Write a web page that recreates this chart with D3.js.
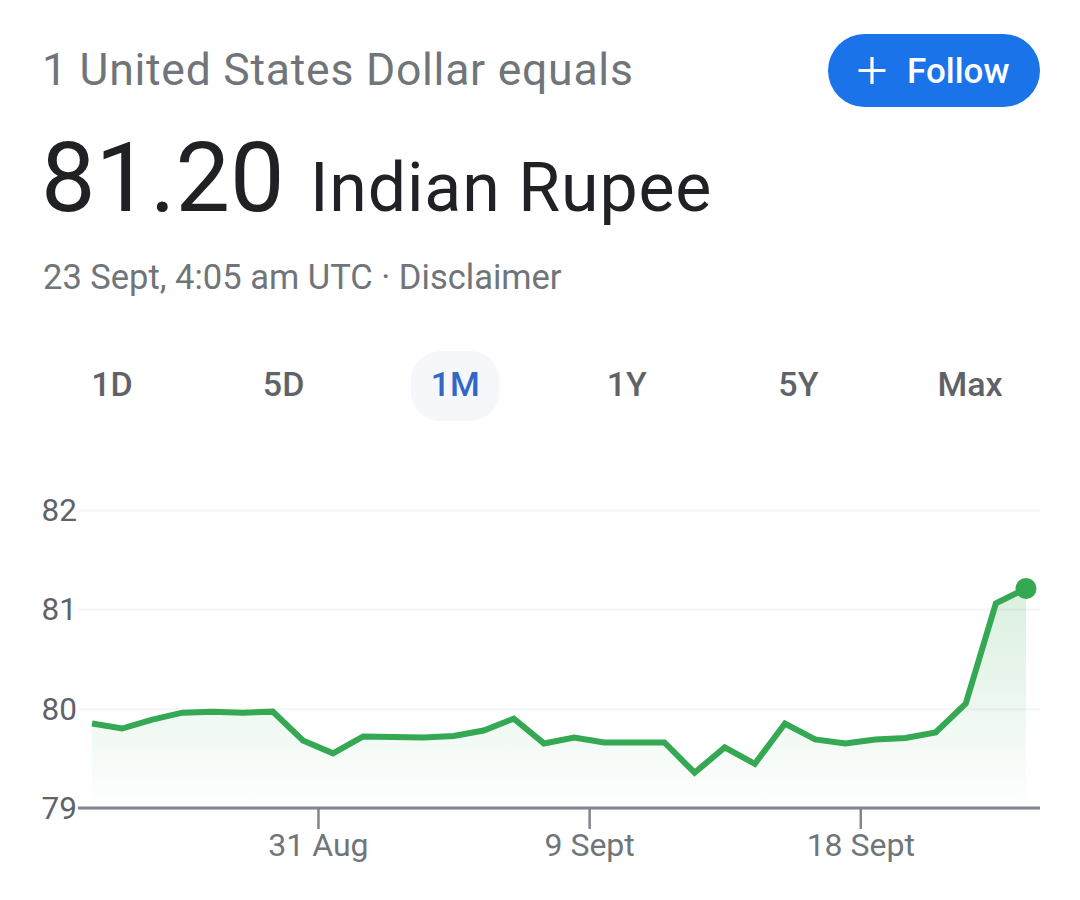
<![CDATA[<!DOCTYPE html>
<html><head><meta charset="utf-8">
<script src="https://cdn.jsdelivr.net/npm/d3@7"></script>
<style>html,body{margin:0;padding:0;background:#fff;overflow:hidden;height:900px}svg{display:block}text{font-family:Roboto,sans-serif}</style>
<script>
const rates = [79.85,79.80,79.89,79.96,79.97,79.96,79.97,79.68,79.55,79.72,79.715,79.71,79.725,79.78,79.90,79.65,79.71,79.66,79.66,79.66,79.355,79.61,79.445,79.85,79.69,79.65,79.69,79.705,79.76,80.05,81.06,81.21];
const firstDate = "2022-08-23T12:00:00Z";
const yTicks = [79,80,81,82];
const xTickDates = ["2022-08-31","2022-09-09","2022-09-18"];
const xTickLabels = ["31 Aug","9 Sept","18 Sept"];
const ranges = ["1D","5D","1M","1Y","5Y","Max"];
const activeRange = "1M";

document.addEventListener("DOMContentLoaded",()=>{
const W=1080,H=900,left=78,right=1040;
const start=new Date(firstDate);
const dates=rates.map((_,i)=>d3.utcDay.offset(start,i));
const x=d3.scaleUtc().domain([dates[0],dates[dates.length-1]]).range([92,1026]);
const y=d3.scaleLinear().domain([79,82]).range([808,510]);
const svg=d3.select("#chart").attr("width",W).attr("height",H).attr("viewBox",`0 0 ${W} ${H}`);

// header
svg.append("text").attr("x",42).attr("y",85).attr("font-size",44.500).attr("letter-spacing",0.75).attr("fill","#70757a").text("1 United States Dollar equals");
svg.append("text").attr("x",41).attr("y",211).attr("font-size",97).attr("fill","#202124").text("81.20");
svg.append("text").attr("x",310).attr("y",211).attr("font-size",68).attr("letter-spacing",0.85).attr("fill","#202124").text("Indian Rupee");
svg.append("text").attr("x",43).attr("y",289).attr("font-size",34.500).attr("fill","#70757a").text("23 Sept, 4:05 am UTC · Disclaimer");

// follow button
svg.append("rect").attr("x",828).attr("y",34).attr("width",212).attr("height",73).attr("rx",36.5).attr("fill","#1a73e8");
svg.append("path").attr("d","M872 57V84M858.500 70.500H885.500").attr("stroke","#fff").attr("stroke-width",3.2).attr("fill","none");
svg.append("text").attr("x",907).attr("y",83).attr("font-size",35).attr("font-weight",500).attr("fill","#fff").text("Follow");

// range tabs
const tabCenters=d3.scalePoint().domain(ranges).range([112,970]);
svg.append("rect").attr("x",tabCenters(activeRange)-44.500).attr("y",351).attr("width",89).attr("height",70).attr("rx",30).attr("fill","#f5f7fa");
svg.append("g").selectAll("text").data(ranges).join("text")
  .attr("x",d=>tabCenters(d)).attr("y",396).attr("text-anchor","middle").attr("font-size",34).attr("font-weight",500)
  .attr("fill",d=>d===activeRange?"#3367c4":"#5f6368").text(d=>d);

// gradient
const grad=svg.append("defs").append("linearGradient").attr("id","fade").attr("gradientUnits","userSpaceOnUse")
  .attr("x1",0).attr("x2",0).attr("y1",y(81.21)).attr("y2",y(79));
grad.append("stop").attr("offset",0).attr("stop-color","#34a853").attr("stop-opacity",0.18);
grad.append("stop").attr("offset",1).attr("stop-color","#34a853").attr("stop-opacity",0.005);

// y axis + grid
const yAxis=d3.axisLeft(y).tickValues(yTicks).tickFormat(d3.format("d")).tickSize(-(right-left)).tickPadding(1);
const gy=svg.append("g").attr("transform",`translate(${left},0)`).call(yAxis);
gy.select(".domain").remove();
gy.selectAll(".tick line").attr("stroke","#f6f6f6").attr("stroke-width",2.500);
gy.selectAll(".tick text").attr("font-size",31.500).attr("fill","#5f6368").attr("dy","0.33em");

// area + line
svg.append("path").datum(rates).attr("fill","url(#fade)")
  .attr("d",d3.area().x((d,i)=>x(dates[i])).y0(y(79)).y1(d=>y(d)));
svg.append("path").datum(rates).attr("fill","none").attr("stroke","#34a853").attr("stroke-width",6).attr("stroke-linejoin","miter")
  .attr("d",d3.line().x((d,i)=>x(dates[i])).y(d=>y(d)));
svg.append("circle").attr("cx",x(dates[dates.length-1])).attr("cy",y(rates[rates.length-1])).attr("r",10.500).attr("fill","#34a853");

// x axis
const xAxis=d3.axisBottom(x).tickValues(xTickDates.map(d=>new Date(d))).tickFormat((d,i)=>xTickLabels[i]).tickSize(21).tickPadding(4).tickSizeOuter(0);
const gx=svg.append("g").attr("transform",`translate(0,${y(79)})`).call(xAxis);
gx.select(".domain").remove();
gx.selectAll(".tick line").attr("stroke","#80868b").attr("stroke-width",2.500);
gx.selectAll(".tick text").attr("font-size",32).attr("fill","#70757a");
svg.append("line").attr("x1",left).attr("x2",right).attr("y1",y(79)).attr("y2",y(79)).attr("stroke","#80868b").attr("stroke-width",3);
});
</script>
</head><body><svg id="chart"></svg></body></html>]]>
